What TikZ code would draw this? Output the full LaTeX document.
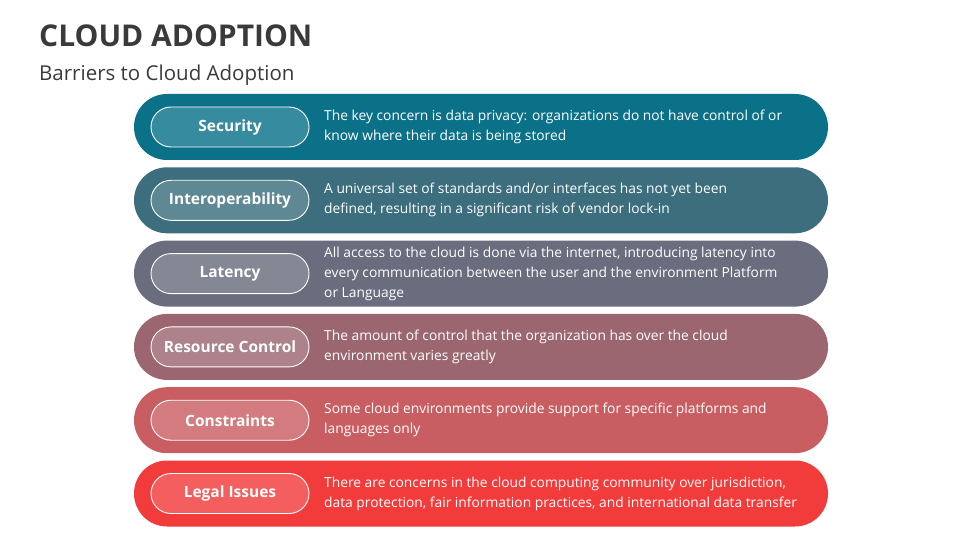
\documentclass[tikz,border=0pt]{standalone}
\usepackage{fontspec}
\setmainfont{Open Sans}
\definecolor{c1}{HTML}{0B7189}
\definecolor{c2}{HTML}{3C6E7E}
\definecolor{c3}{HTML}{696D7D}
\definecolor{c4}{HTML}{9B6670}
\definecolor{c5}{HTML}{C95E62}
\definecolor{c6}{HTML}{F23B3B}
\definecolor{ttl}{HTML}{3A3A3A}
\tikzset{
 band/.style={rounded corners=33pt, draw=none},
 tag/.style={rounded corners=20pt, draw=white, line width=0.9pt, minimum width=158pt, minimum height=40pt, text=white, font=\fontsize{15.5}{18}\selectfont\bfseries, inner sep=0},
 desc/.style={anchor=west, text=white, align=left, font=\fontsize{13.8}{20}\selectfont, inner sep=0}
}
\begin{document}
\begin{tikzpicture}[x=1pt,y=-1pt]
\useasboundingbox (0,0) rectangle (960,540);
\node[anchor=west, inner sep=0, text=ttl, font=\fontsize{30}{36}\selectfont\bfseries] (title) at (39,36) {CLOUD ADOPTION};
\node[anchor=west, inner sep=0, text=ttl, font=\fontsize{20.5}{24}\selectfont] (sub) at (39,75) {Barriers to Cloud Adoption};
\foreach \i/\c/\lab/\txt in {
 0/c1/Security/{The key concern is data privacy: organizations do not have control of or\\know where their data is being stored},
 1/c2/Interoperability/{A universal set of standards and/or interfaces has not yet been\\defined, resulting in a significant risk of vendor lock-in},
 2/c3/Latency/{All access to the cloud is done via the internet, introducing latency into\\every communication between the user and the environment Platform\\or Language},
 3/c4/Resource Control/{The amount of control that the organization has over the cloud\\environment varies greatly},
 4/c5/Constraints/{Some cloud environments provide support for specific platforms and\\languages only},
 5/c6/Legal Issues/{There are concerns in the cloud computing community over jurisdiction,\\data protection, fair information practices, and international data transfer}}{
 \pgfmathsetmacro{\yc}{127+73.3*\i}
 \fill[band, fill=\c] (134,\yc-33) rectangle (828,\yc+33);
 \node[tag, fill=\c!82!white] (t\i) at (230,\yc) {\lab};
 \node[desc] (d\i) at (324,\yc) {\txt};
}
\end{tikzpicture}
\end{document}
